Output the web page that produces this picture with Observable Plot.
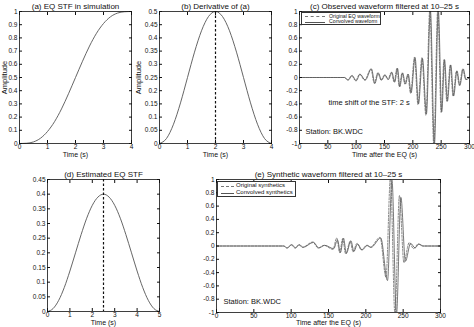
<!DOCTYPE html>
<html><head><meta charset="utf-8">
<script src="https://cdn.jsdelivr.net/npm/d3@7"></script>
<script src="https://cdn.jsdelivr.net/npm/@observablehq/plot@0.6"></script>
<style>
body{margin:0;background:#fff;font-family:"Liberation Sans",Arial,sans-serif;}
#fig{position:relative;width:474px;height:327px;overflow:hidden;background:#fff;}
.panel{position:absolute;}
.legend{position:absolute;border:0.7px solid #333;background:#fff;color:#111;box-sizing:border-box;}
.legend .smp{position:absolute;height:0;}
.legend .lbl{position:absolute;white-space:nowrap;}
</style>
</head><body><div id="fig"></div>
<script>
// ---------- data ----------
// (a) EQ STF in simulation
const aTime = [0,0.25,0.5,0.75,1,1.25,1.5,1.75,2,2.25,2.5,2.75,3,3.25,3.5,3.75,4];
const aAmp  = [0,0.002,0.012,0.040,0.091,0.165,0.262,0.377,0.5,0.623,0.738,0.835,0.909,0.960,0.988,0.998,1];
// (b) derivative of (a)
const bTime = [0,0.25,0.5,0.75,1,1.25,1.5,1.75,2,2.25,2.5,2.75,3,3.25,3.5,3.75,4];
const bAmp  = [0,0.019,0.073,0.154,0.25,0.346,0.427,0.481,0.5,0.481,0.427,0.346,0.25,0.154,0.073,0.019,0];
const bPeak = [2];
// (c) observed waveform, filtered 10-25 s
const obsConvTime = [0,80,86,93,100,107,116,127,133,139,145,151,157,163,168,173,177,182,187,192,197,204,210,217,224,231,238,245,251,256,261,267,272,278,283,289,294,300];
const obsConvVal  = [0,0,-0.04,0.03,-0.05,0.05,-0.04,0.13,-0.09,0.07,-0.04,0.04,-0.03,0.08,-0.07,0.14,-0.14,0.07,-0.10,0.05,-0.23,0.30,-0.40,0.29,-0.55,1.02,-1.02,1.02,-0.52,0.27,-0.36,0.19,-0.28,0.10,-0.12,0.13,-0.03,0];
const obsOrigTime = [0,79,85,92,99,106,115,126,132,138,144,150,156,162,167,172,176,181,186,191,196,203,209,216,223,230,237,244,250,255,260,266,271,277,282,288,293,300];
const obsOrigVal  = [0,0,-0.04,0.03,-0.05,0.05,-0.04,0.13,-0.09,0.07,-0.04,0.04,-0.03,0.08,-0.07,0.14,-0.14,0.07,-0.10,0.05,-0.24,0.31,-0.41,0.30,-0.57,1.03,-1.03,1.03,-0.53,0.27,-0.36,0.19,-0.28,0.10,-0.12,0.13,-0.03,0];
// (d) estimated EQ STF
const dTime = [0,0.25,0.5,0.75,1,1.25,1.5,1.75,2,2.25,2.5,2.75,3,3.25,3.5,3.75,4,4.25,4.5,4.75,5];
const dAmp  = [0,0.010,0.038,0.082,0.138,0.2,0.262,0.318,0.362,0.390,0.4,0.390,0.362,0.318,0.262,0.2,0.138,0.082,0.038,0.010,0];
const dPeak = [2.5];
// (e) synthetic waveform, filtered 10-25 s
const synConvTime = [0,90,95,101,106,111,116,130,137,145,157,162,166,170,174,180,184,189,195,202,207,220,229,235,241,247,253,260,266,271,277,300];
const synConvVal  = [0,0,-0.03,0.02,-0.03,0.02,-0.02,0.055,-0.03,0.01,-0.04,0.09,-0.10,0.12,-0.11,0.08,-0.08,0.03,-0.06,0.01,-0.02,0.12,-0.52,0.99,-1.03,0.73,-0.23,0.04,-0.03,0.03,0,0];
const synOrigTime = [0,90,94,100,105,110,115,129,136,144,156,161,165,169,173,179,183,188,194,201,206,219,227,233,239,245,251,258,264,270,276,300];
const synOrigVal  = [0,0,-0.03,0.02,-0.03,0.02,-0.02,0.06,-0.03,0.01,-0.05,0.12,-0.10,0.11,-0.12,0.07,-0.09,0.04,-0.06,0.01,-0.02,0.13,-0.47,1.03,-1.03,0.76,-0.25,0.05,-0.04,0.03,0,0];

// tick values
const ticksA_x = [0,1,2,3,4];
const ticksA_y = [0,0.1,0.2,0.3,0.4,0.5,0.6,0.7,0.8,0.9,1];
const ticksB_y = [0,0.05,0.1,0.15,0.2,0.25,0.3,0.35,0.4,0.45,0.5];
const ticksD_x = [0,1,2,3,4,5];
const ticksD_y = [0,0.05,0.1,0.15,0.2,0.25,0.3,0.35,0.4,0.45];
const ticksW_x = [0,50,100,150,200,250,300];
const ticksW_y = [-1,-0.8,-0.6,-0.4,-0.2,0,0.2,0.4,0.6,0.8,1];

// ---------- drawing ----------
const fig = document.getElementById("fig");
const zip = (t, v) => t.map((x, i) => ({x, y: v[i]}));
const fmt = d => String(+d.toFixed(2));
const FONT = "Liberation Sans, Arial, Helvetica, sans-serif";

function panel(o) {
  const marks = [
    ...o.marks,
    Plot.frame({stroke: "#111", strokeWidth: 0.8}),
    Plot.axisX(o.xt, {anchor: "bottom", tickSize: -3, tickPadding: 4, tickFormat: fmt, label: null, fontSize: 6.5}),
    Plot.axisX(o.xt, {anchor: "top", tickSize: -3, tickFormat: () => "", label: null}),
    Plot.axisY(o.yt, {anchor: "left", tickSize: -3, tickPadding: 5, tickFormat: fmt, label: null, fontSize: 6.5}),
    Plot.axisY(o.yt, {anchor: "right", tickSize: -3, tickFormat: () => "", label: null}),
    Plot.text([o.title], {text: d => d, frameAnchor: "top", textAnchor: "middle", lineAnchor: "bottom", dy: -2.5, fontSize: 8, fill: "#111"}),
    Plot.text([o.xlabel], {text: d => d, frameAnchor: "bottom", textAnchor: "middle", lineAnchor: "top", dy: o.xlDy ?? 8.5, fontSize: 7, fill: "#111"})
  ];
  if (o.ylabel) marks.push(Plot.text([o.ylabel], {text: d => d, frameAnchor: "left", textAnchor: "middle", lineAnchor: "middle", rotate: -90, dx: o.ylDx, fontSize: 7.5, fill: "#111"}));
  if (o.extra) marks.push(...o.extra);
  const p = Plot.plot({
    width: o.w, height: o.h,
    marginLeft: o.ml, marginRight: o.mr, marginTop: o.mt, marginBottom: o.mb,
    style: {background: "transparent", fontFamily: FONT, color: "#111", overflow: "visible"},
    x: {domain: o.xd},
    y: {domain: o.yd},
    marks
  });
  p.classList.add("panel");
  p.style.left = o.left + "px";
  p.style.top = o.top + "px";
  fig.appendChild(p);
}

const LINE = "#555";

panel({left: 0, top: 0, w: 140, h: 162, ml: 19, mr: 9, mt: 11, mb: 19,
  xd: [0, 4], yd: [0, 1], xt: ticksA_x, yt: ticksA_y,
  title: "(a) EQ STF in simulation", xlabel: "Time (s)", ylabel: "Amplitude", ylDx: -14.5,
  marks: [Plot.line(zip(aTime, aAmp), {x: "x", y: "y", curve: "monotone-x", stroke: LINE, strokeWidth: 0.9})]
});

panel({left: 140, top: 0, w: 150, h: 162, ml: 19, mr: 19, mt: 11, mb: 19,
  xd: [0, 4], yd: [0, 0.5], xt: ticksA_x, yt: ticksB_y,
  title: "(b) Derivative of (a)", xlabel: "Time (s)", ylabel: "Amplitude", ylDx: -21,
  marks: [
    Plot.line(zip(bTime, bAmp), {x: "x", y: "y", curve: "monotone-x", stroke: LINE, strokeWidth: 0.9}),
    Plot.ruleX(bPeak, {stroke: "#111", strokeWidth: 1.2, strokeDasharray: "2.5,2"})
  ]
});

panel({left: 283, top: 0, w: 191, h: 162, ml: 16, mr: 5, mt: 11, mb: 19,
  xd: [0, 300], yd: [-1, 1], xt: ticksW_x, yt: ticksW_y,
  title: "(c) Observed waveform filtered at 10\u201325 s", xlabel: "Time after the EQ (s)",
  marks: [
    Plot.line(zip(obsOrigTime, obsOrigVal), {x: "x", y: "y", curve: "monotone-x", stroke: "#777", strokeWidth: 0.9, strokeDasharray: "2,1.5", clip: true}),
    Plot.line(zip(obsConvTime, obsConvVal), {x: "x", y: "y", curve: "monotone-x", stroke: LINE, strokeWidth: 0.8, clip: true})
  ],
  extra: [
    Plot.text(["Station: BK.WDC"], {text: d => d, frameAnchor: "bottom-left", textAnchor: "start", lineAnchor: "middle", dx: 6, dy: -11.5, fontSize: 7.5, fill: "#111"}),
    Plot.text(["time shift of the STF: 2 s"], {text: d => d, frameAnchor: "left", textAnchor: "start", lineAnchor: "middle", dx: 29, dy: 25, fontSize: 7.5, fill: "#111"})
  ]
});

panel({left: 20, top: 160, w: 150, h: 167, ml: 27, mr: 11, mt: 19, mb: 16,
  xd: [0, 5], yd: [0, 0.45], xt: ticksD_x, yt: ticksD_y,
  title: "(d) Estimated EQ STF", xlabel: "Time (s)",
  marks: [
    Plot.line(zip(dTime, dAmp), {x: "x", y: "y", curve: "monotone-x", stroke: LINE, strokeWidth: 0.9}),
    Plot.ruleX(dPeak, {stroke: "#111", strokeWidth: 1.2, strokeDasharray: "2.5,2"})
  ]
});

panel({left: 190, top: 160, w: 284, h: 167, ml: 26, mr: 34, mt: 19, mb: 15,
  xd: [0, 300], yd: [-1, 1], xt: ticksW_x, yt: ticksW_y,
  title: "(e) Synthetic waveform filtered at 10\u201325 s", xlabel: "Time after the EQ (s)", xlDy: 8,
  marks: [
    Plot.line(zip(synOrigTime, synOrigVal), {x: "x", y: "y", curve: "monotone-x", stroke: "#777", strokeWidth: 0.9, strokeDasharray: "2,1.5", clip: true}),
    Plot.line(zip(synConvTime, synConvVal), {x: "x", y: "y", curve: "monotone-x", stroke: LINE, strokeWidth: 0.8, clip: true})
  ],
  extra: [
    Plot.text(["Station: BK.WDC"], {text: d => d, frameAnchor: "bottom-left", textAnchor: "start", lineAnchor: "middle", dx: 7, dy: -10.5, fontSize: 7.5, fill: "#111"})
  ]
});

// legends
function legend({left, top, width, height, fontSize, rows, sampleL, sampleW, textL}) {
  const box = document.createElement("div");
  box.className = "legend";
  Object.assign(box.style, {left: left + "px", top: top + "px", width: width + "px", height: height + "px", fontSize: fontSize + "px", fontFamily: FONT});
  rows.forEach(r => {
    const s = document.createElement("div");
    s.className = "smp";
    Object.assign(s.style, {left: sampleL + "px", width: sampleW + "px", top: r.y + "px", borderTop: `0.8px ${r.dash ? "dashed" : "solid"} ${r.dash ? "#777" : "#555"}`});
    const t = document.createElement("div");
    t.className = "lbl";
    t.textContent = r.label;
    Object.assign(t.style, {left: textL + "px", top: (r.y - fontSize * 0.62) + "px", lineHeight: "1.2"});
    box.appendChild(s); box.appendChild(t);
  });
  fig.appendChild(box);
}
legend({left: 301, top: 12, width: 80, height: 13, fontSize: 5.2, sampleL: 3, sampleW: 20, textL: 27,
  rows: [{label: "Original EQ waveform", dash: true, y: 3.2}, {label: "Convolved waveform", dash: false, y: 8.6}]});
legend({left: 217, top: 181, width: 79, height: 16, fontSize: 6, sampleL: 3, sampleW: 13, textL: 18,
  rows: [{label: "Original synthetics", dash: true, y: 4}, {label: "Convolved synthetics", dash: false, y: 11}]});
</script></body></html>
